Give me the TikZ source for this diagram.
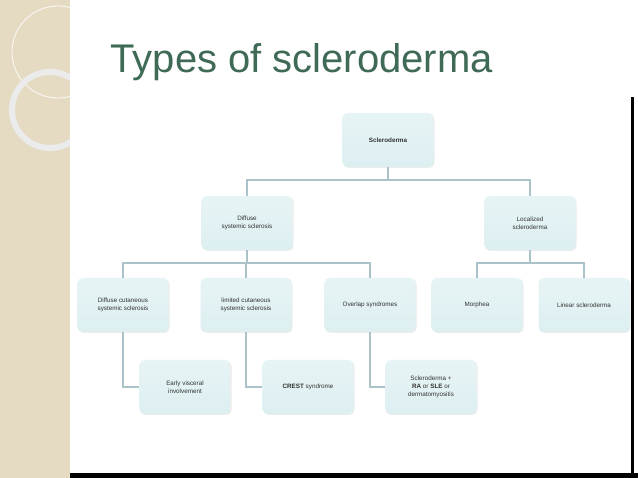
\documentclass[tikz,border=0pt]{standalone}
\usepackage{fontspec}
\setmainfont{Liberation Sans}
\usetikzlibrary{shadows}
\definecolor{titlegreen}{HTML}{3F6A55}
\definecolor{beige}{HTML}{E5DBC3}
\definecolor{boxfill}{HTML}{DDEFF1}
\definecolor{linec}{HTML}{A9C3C8}
\begin{document}
\begin{tikzpicture}[x=1pt,y=-1pt,
  bx/.style={rounded corners=5pt, minimum width=91pt, minimum height=54pt, align=center,
    top color=boxfill!70, bottom color=boxfill, draw=none, font=\fontsize{6.3}{8}\selectfont, text=black!80,
    drop shadow={opacity=0.15, shadow xshift=1pt, shadow yshift=-1pt}},
  cn/.style={draw=linec, line width=1.2pt}]
\useasboundingbox (0,0) rectangle (638,478);
\fill[white] (0,0) rectangle (638,478);
\fill[beige] (0,0) rectangle (70,478);
\begin{scope}
\clip (0,0) rectangle (70,478);
\draw[white!90!beige, line width=0.8pt] (58,52) circle (46);
\draw[black!8, line width=6pt] (50,110) circle (38);
\end{scope}
\node[anchor=base west, text=titlegreen, font=\fontsize{40}{40}\selectfont] (title) at (107,73) {Types of scleroderma};
\fill[black] (70,473) rectangle (638,478);
\fill[black] (631,97) rectangle (634,473);
\coordinate (j1) at (388,180); \coordinate (j2) at (247,263); \coordinate (j3) at (530,263);
\node[bx] (sc) at (388,140) {\textbf{Scleroderma}};
\node[bx] (ds) at (247,223) {Diffuse\\systemic sclerosis};
\node[bx] (lo) at (530,223) {Localized\\scleroderma};
\node[bx] (dc) at (123,305) {Diffuse cutaneous\\systemic sclerosis};
\node[bx] (lc) at (246,305) {limited cutaneous\\systemic sclerosis};
\node[bx] (ov) at (370,305) {Overlap syndromes};
\node[bx] (mo) at (477,305) {Morphea};
\node[bx] (li) at (584,305) {Linear scleroderma};
\node[bx] (ev) at (185,387) {Early visceral\\involvement};
\node[bx] (cr) at (308,387) {\textbf{CREST} syndrome};
\node[bx] (so) at (431,387) {Scleroderma +\\\textbf{RA} or \textbf{SLE} or\\dermatomyositis};
\draw[cn] (sc.south) -- (j1);
\draw[cn] (ds.north) |- (j1) -| (lo.north);
\draw[cn] (ds.south) -- (ds.south|-j2);
\draw[cn] (dc.north) |- (j2) -| (ov.north);
\draw[cn] (lc.north) -- (lc.north|-j2);
\draw[cn] (lo.south) -- (j3);
\draw[cn] (mo.north) |- (j3) -| (li.north);
\draw[cn] (dc.south) |- (ev.west);
\draw[cn] (lc.south) |- (cr.west);
\draw[cn] (ov.south) |- (so.west);
\end{tikzpicture}
\end{document}
